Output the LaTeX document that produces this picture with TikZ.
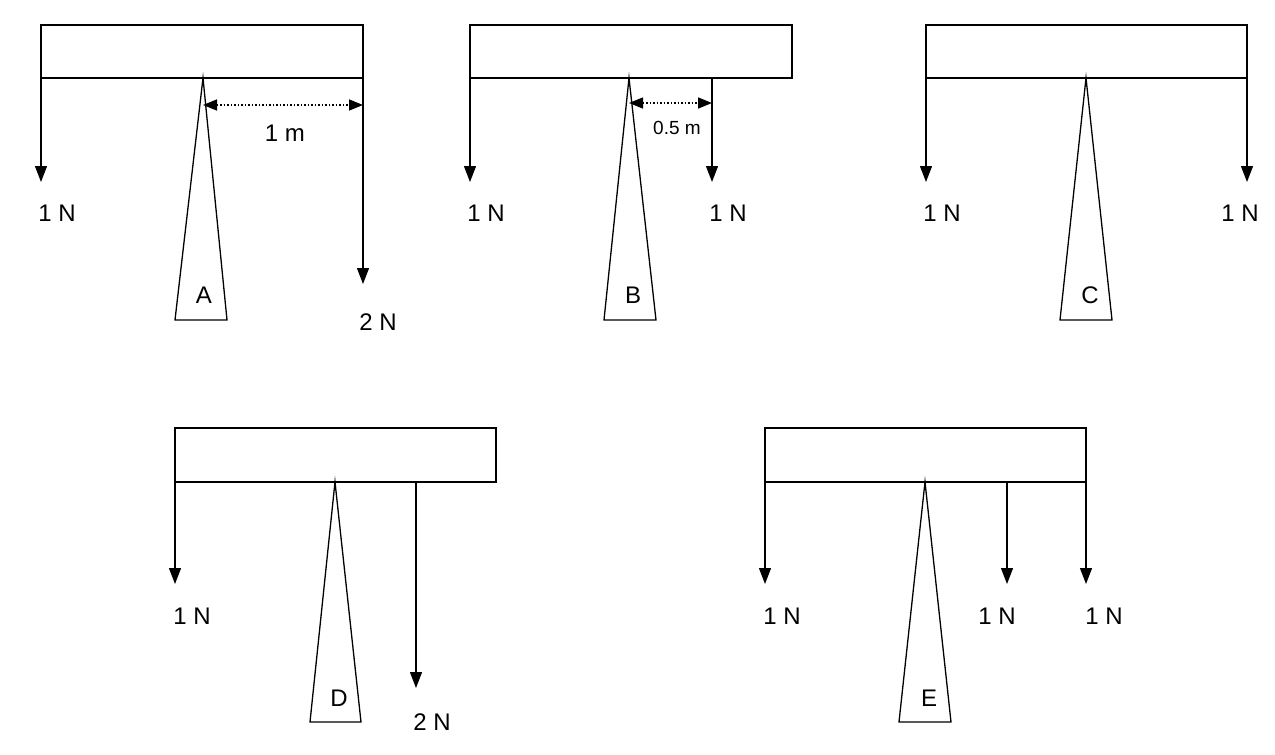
\documentclass[tikz,border=0pt]{standalone}
\usepackage{fontspec}
\setmainfont{Liberation Sans}
\usetikzlibrary{arrows.meta}
\begin{document}
\begin{tikzpicture}[x=1pt,y=-1pt,line width=1.3pt,
 beam/.style={draw,line width=1.8pt},
 force/.style={-{Triangle[length=16pt,width=12pt]}},
 lbl/.style={font=\fontsize{24}{24}\selectfont,inner sep=0},
 dim/.style={dotted,line width=1.5pt,{Triangle[length=14pt,width=11pt]}-{Triangle[length=14pt,width=11pt]}}]
\useasboundingbox (0,0) rectangle (1275,755);
% A
\draw[beam] (41,25) rectangle (363,78);
\draw (203,78) coordinate (aA) -- (175,320) -- (227,320) -- cycle;
\coordinate (a1) at (41,78); \coordinate (a1e) at (41,182);
\draw[force] (a1) -- (a1e);
\coordinate (a2) at (363,78); \coordinate (a2e) at (363,284);
\draw[force] (a2) -- (a2e);
\coordinate (ad1) at (203,105); \coordinate (ad2) at (363,105);
\draw[dim] (ad1) -- (ad2);
\node[lbl] (tA1) at (57,213) {1 N};
\node[lbl] (tA2) at (378,322) {2 N};
\node[lbl] (tAm) at (285,133) {1 m};
\node[lbl] (tA) at (204,295) {A};
% B
\draw[beam] (470,25) rectangle (792,78);
\draw (629,78) -- (604,320) -- (656,320) -- cycle;
\coordinate (b1) at (470,78); \coordinate (b1e) at (470,182);
\draw[force] (b1) -- (b1e);
\coordinate (b2) at (712,78); \coordinate (b2e) at (712,182);
\draw[force] (b2) -- (b2e);
\coordinate (bd1) at (629,103); \coordinate (bd2) at (712,103);
\draw[dim] (bd1) -- (bd2);
\node[lbl] (tB1) at (486,213) {1 N};
\node[lbl] (tB2) at (728,213) {1 N};
\node[lbl,font=\fontsize{19}{19}\selectfont] (tBm) at (677,128) {0.5 m};
\node[lbl] (tB) at (633,295) {B};
% C
\draw[beam] (926,25) rectangle (1247,78);
\draw (1086,78) -- (1060,320) -- (1112,320) -- cycle;
\coordinate (c1) at (926,78); \coordinate (c1e) at (926,182);
\draw[force] (c1) -- (c1e);
\coordinate (c2) at (1247,78); \coordinate (c2e) at (1247,182);
\draw[force] (c2) -- (c2e);
\node[lbl] (tC1) at (942,213) {1 N};
\node[lbl] (tC2) at (1240,213) {1 N};
\node[lbl] (tC) at (1090,295) {C};
% D
\draw[beam] (175,428) rectangle (496,482);
\draw (335,482) -- (310,722) -- (361,722) -- cycle;
\coordinate (d1) at (175,482); \coordinate (d1e) at (175,584);
\draw[force] (d1) -- (d1e);
\coordinate (d2) at (416,482); \coordinate (d2e) at (416,688);
\draw[force] (d2) -- (d2e);
\node[lbl] (tD1) at (192,616) {1 N};
\node[lbl] (tD2) at (432,722) {2 N};
\node[lbl] (tD) at (339,698) {D};
% E
\draw[beam] (765,428) rectangle (1086,482);
\draw (925,482) -- (899,722) -- (951,722) -- cycle;
\coordinate (e1) at (765,482); \coordinate (e1e) at (765,584);
\draw[force] (e1) -- (e1e);
\coordinate (e2) at (1007,482); \coordinate (e2e) at (1007,584);
\draw[force] (e2) -- (e2e);
\coordinate (e3) at (1086,482); \coordinate (e3e) at (1086,584);
\draw[force] (e3) -- (e3e);
\node[lbl] (tE1) at (782,616) {1 N};
\node[lbl] (tE2) at (997,616) {1 N};
\node[lbl] (tE3) at (1104,616) {1 N};
\node[lbl] (tE) at (929,698) {E};
\end{tikzpicture}
\end{document}
